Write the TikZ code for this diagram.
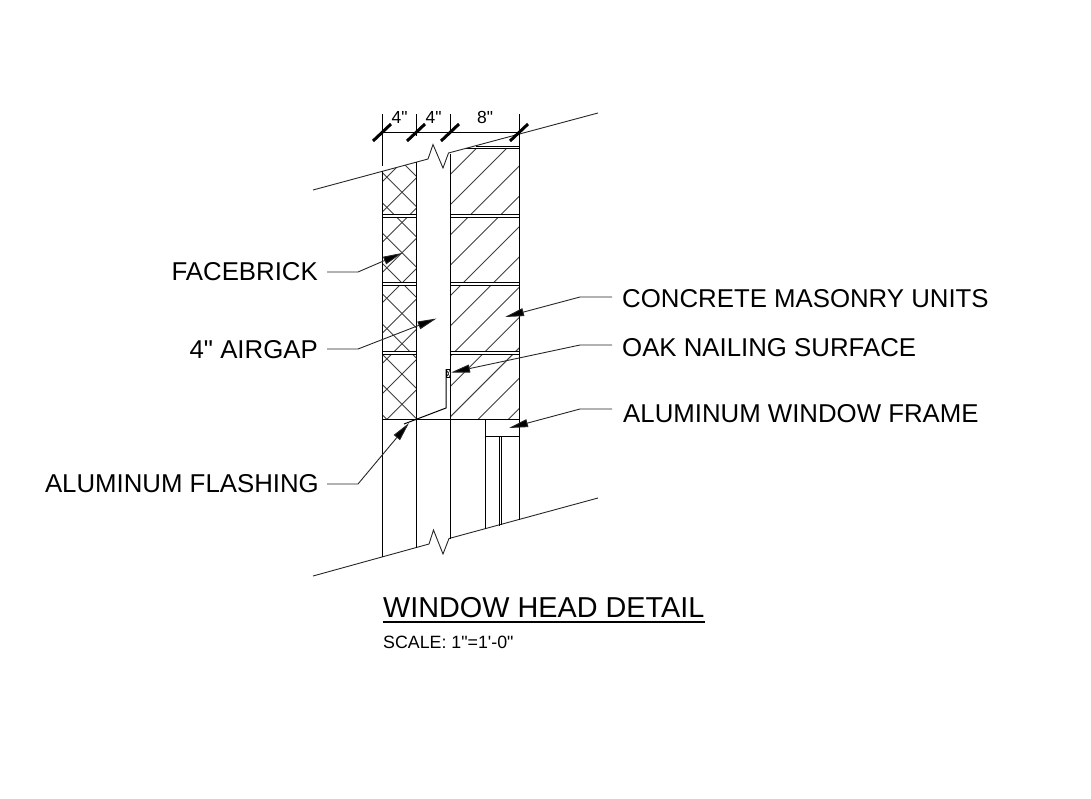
\documentclass[tikz,border=0pt]{standalone}
\usepackage{fontspec}
\newfontfamily\arialfont{Liberation Sans}
\usetikzlibrary{arrows.meta}
\tikzset{
  wall/.style={line width=1pt,black},
  thin line/.style={line width=0.9pt,black!85},
  hatch/.style={line width=0.9pt,black!75},
  joint/.style={line width=1pt,black,fill=white},
  tick/.style={line width=3pt,black},
  leader/.style={line width=0.9pt,black!85,-{Triangle[length=19pt,width=8pt,fill=black]}},
  label/.style={font=\arialfont\fontsize{25.8}{25.8}\selectfont,inner sep=0pt,text=black},
  dimtext/.style={font=\arialfont\fontsize{17.5}{17.5}\selectfont,inner sep=0pt,anchor=base},
}
\begin{document}
\begin{tikzpicture}[x=1pt,y=-1pt]
\useasboundingbox (0,0) rectangle (1091,798);
% hatching
\begin{scope}
  \clip (382,171.4) -- (416,162.2) -- (416,419) -- (382,419) -- cycle;
  \foreach \k in {-8,...,12}{
    \draw[hatch] (300,{776-30.3*\k-300}) -- (500,{776-30.3*\k-500});
    \draw[hatch] (300,{300-(28+30.3*\k)}) -- (500,{500-(28+30.3*\k)});
  }
\end{scope}
\begin{scope}
  \clip (450,153) -- (466,148.7) -- (519,148.7) -- (519,419) -- (450,419) -- cycle;
  \foreach \k in {0,...,11}{
    \draw[hatch] (400,{624.7+30.3*\k-400}) -- (600,{624.7+30.3*\k-600});
  }
\end{scope}
% mortar joints
\foreach \a/\b in {214/217,282/285,351.5/354.5}{
  \filldraw[joint] (382,\a) rectangle (416,\b);
  \filldraw[joint] (450,\a) rectangle (519,\b);
}
\draw[wall] (476,146) -- (519,146);
\draw[wall] (466,148.7) -- (519,148.7);
% slanted top and bottom break lines
\draw[thin line] (313,190) -- (428,159) -- (433,144.5) -- (443,168) -- (448.5,153) -- (598,113);
\draw[thin line] (313,576) -- (429,544) -- (433.5,530) -- (443,554) -- (449,538.5) -- (598,498);
% walls
\draw[wall] (382,114) -- (382,165.5);
\draw[wall] (382,171) -- (382,419);
\draw[wall] (416,114) -- (416,136);
\draw[wall] (416,162) -- (416,419);
\draw[wall] (450,114) -- (450,132);
\draw[wall] (450,153.5) -- (450,419);
\draw[wall] (519,114) -- (519,419);
\draw[wall] (382,132) -- (519,132);
\draw[wall] (382,419) -- (519,419);
% lower walls and window frame
\draw[wall] (382,419) -- (382,557);
\draw[wall] (416,419) -- (416,548);
\draw[wall] (450,419) -- (450,538.5);
\draw[wall] (485,419) -- (485,529);
\draw[wall] (485,436) -- (519,436);
\draw[wall] (499.5,436) -- (499.5,526);
\draw[wall] (501.5,436) -- (501.5,525);
\draw[wall] (519,419) -- (519,520);
% flashing and nailing surface
\draw[wall] (404,424) -- (446,408) -- (446,369);
\draw[wall,fill=white] (446.5,369.5) rectangle (450,377.5);
\draw[line width=0.5pt] (446.5,369.5) -- (450,377.5) (450,369.5) -- (446.5,377.5);
% dimension ticks
\foreach \x in {382,416,450,519}
  \draw[tick] (\x-9,141) -- (\x+9,124);
\node[dimtext] (d1) at (399.5,123) {4"};
\node[dimtext] (d2) at (433.5,123) {4"};
\node[dimtext] (d3) at (485,123) {8"};
% labels
\node[label,anchor=base east] (fb) at (318,280.5) {FACEBRICK};
\node[label,anchor=base east] (ag) at (318,358) {4" AIRGAP};
\node[label,anchor=base east] (af) at (319,492.5) {ALUMINUM FLASHING};
\node[label,anchor=base west] (cm) at (622,307.5) {CONCRETE MASONRY UNITS};
\node[label,anchor=base west] (oak) at (622,356) {OAK NAILING SURFACE};
\node[label,anchor=base west] (awf) at (623,422) {ALUMINUM WINDOW FRAME};
\node[font=\arialfont\fontsize{28.8}{28.8}\selectfont,inner sep=0pt,anchor=base west] (title) at (383,617) {WINDOW HEAD DETAIL};
\node[font=\arialfont\fontsize{17.8}{17.8}\selectfont,inner sep=0pt,anchor=base west] (scale) at (383,648) {SCALE: 1"=1'-0"};
\draw[line width=1.2pt] (383,622) -- (705,622);
% leaders
\coordinate (t1) at (402,253);
\coordinate (t2) at (436.5,318.5);
\coordinate (t3) at (505,317);
\coordinate (t4) at (451,372.5);
\coordinate (t5) at (509,428);
\coordinate (t6) at (409,423);
\coordinate (s1) at (327,272);
\coordinate (s2) at (327,349);
\coordinate (s3) at (327,484);
\coordinate (s4) at (612,297);
\coordinate (s5) at (612,345);
\coordinate (s6) at (612,409);
\draw[leader] (s1) -- (358,272) -- (t1);
\draw[leader] (s2) -- (358,349) -- (t2);
\draw[leader] (s3) -- (358,484) -- (t6);
\draw[leader] (s4) -- (580,297) -- (t3);
\draw[leader] (s5) -- (580,345) -- (t4);
\draw[leader] (s6) -- (580,409) -- (t5);
\end{tikzpicture}
\end{document}
